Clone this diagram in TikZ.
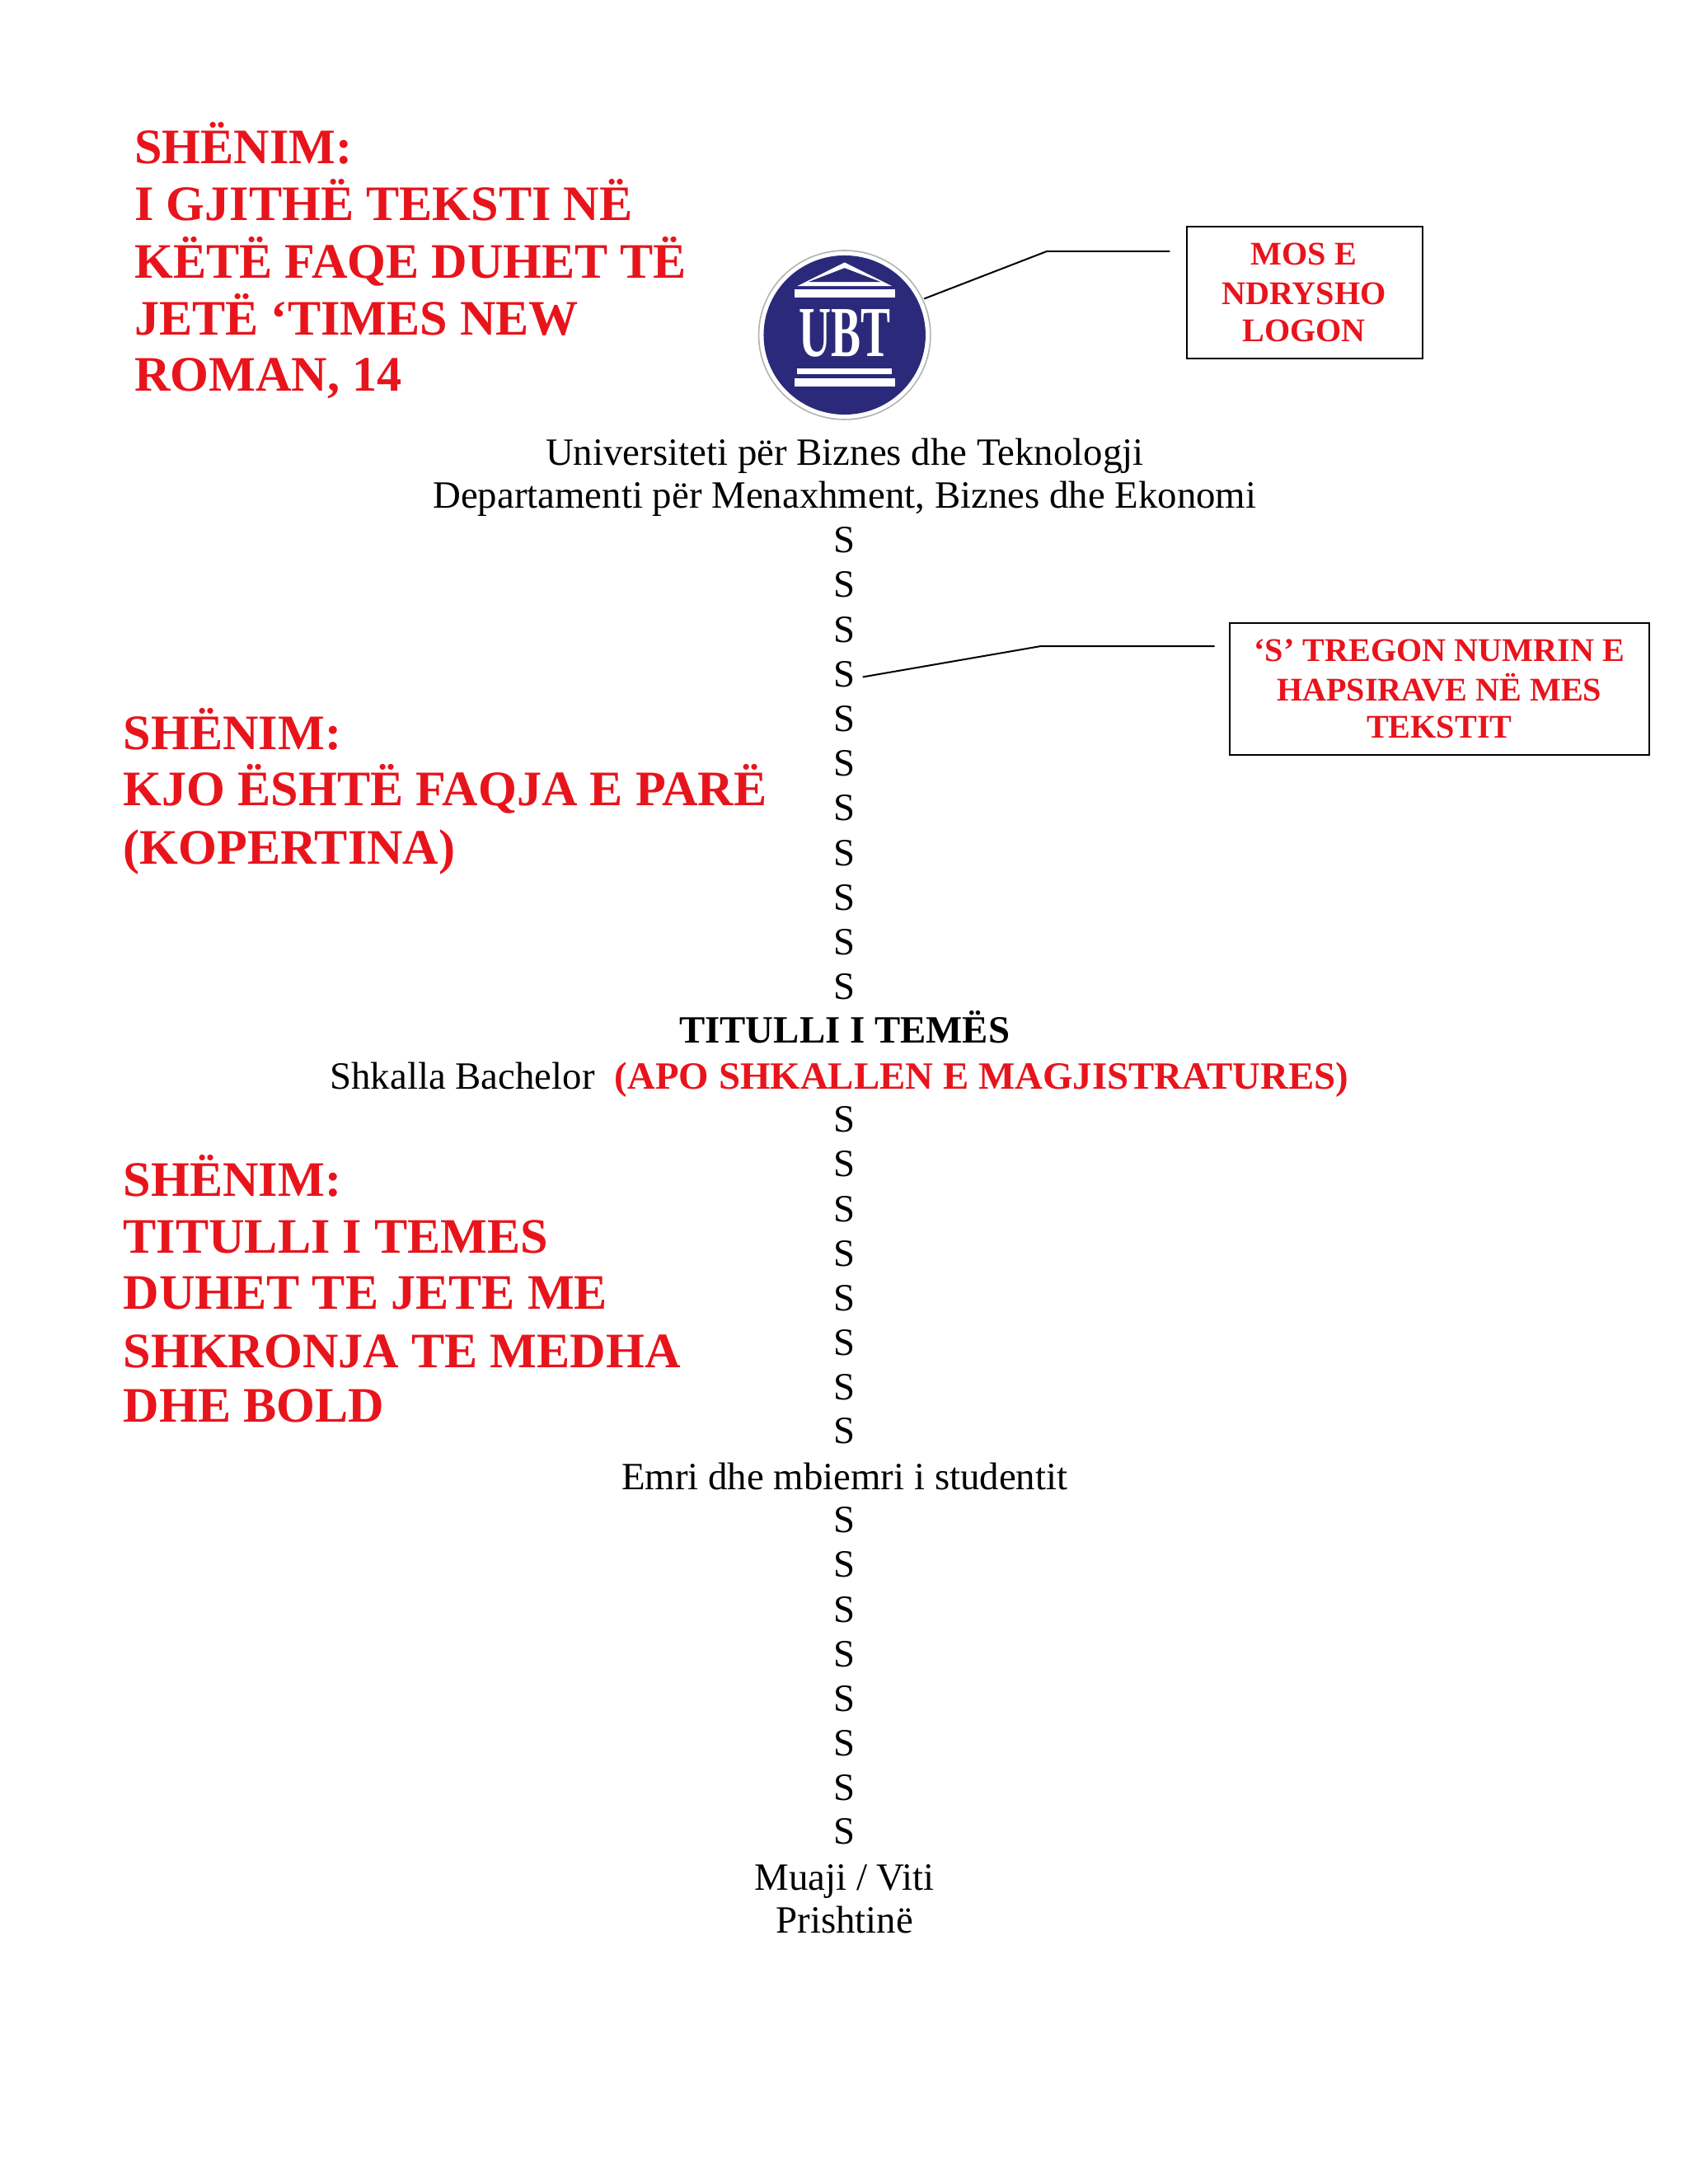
\documentclass[tikz,border=0pt]{standalone}
\usepackage{fontspec}
\setmainfont{Liberation Serif}
\definecolor{nred}{HTML}{E8141C}
\definecolor{ubt}{HTML}{2B2A7A}
\tikzset{
 x=0.50620pt,y=-0.50620pt,
 note/.style={anchor=base west,inner sep=0,text=nred,font=\fontsize{18}{20}\selectfont\bfseries},
 body/.style={anchor=base,inner sep=0,font=\fontsize{14}{16}\selectfont},
 boxtxt/.style={anchor=base,inner sep=0,text=nred,font=\fontsize{12}{14}\selectfont\bfseries},
 callout/.style={draw,line width=0.6pt},
 lead/.style={draw,line width=0.6pt},
}
\begin{document}
\begin{tikzpicture}
\fill[white] (0,0) rectangle (1209,1564.6);
\useasboundingbox (0,0) rectangle (1209,1564.6);
% note 1
\foreach \t/\y [count=\i] in {SHËNIM:/105,I GJITHË  TEKSTI  NË/146,KËTË FAQE DUHET TË/187,JETË ‘TIMES NEW/228,{ROMAN, 14}/268}
  \node[note] (na\i) at (96,\y+12) {\t};
% logo
\fill[gray!60] (605,240) ellipse [x radius=62,y radius=61];
\fill[white] (605,240) ellipse [x radius=61,y radius=60];
\fill[ubt] (605,240) ellipse [x radius=58,y radius=57];
\coordinate (logo) at (662,214);
\fill[white] (571,205) -- (605,188) -- (639,205) -- cycle;
\fill[ubt] (579,202) -- (605,192) -- (631,202) -- cycle;
\fill[white] (569,207) rectangle (641,213);
\fill[white] (569,271) rectangle (641,277);
\fill[white] (571,264) rectangle (639,268);
\node[inner sep=0,text=white,font=\fontsize{26}{26}\selectfont\bfseries,xscale=0.62] at (605,239) {UBT};
% box 1
\node[callout,minimum width=85.5pt,minimum height=48pt,inner sep=0] (b1) at (934.5,209.5) {};
\node[boxtxt] at (934,190) {MOS E};
\node[boxtxt] at (934,218) {NDRYSHO};
\node[boxtxt] at (934,245) {LOGON};
\coordinate (k1) at (750,180);
\draw[lead] (logo) -- (k1) -- (838,180);
% header
\node[body] (u1) at (605,333) {Universiteti  për Biznes  dhe Teknologji};
\node[body] (u2) at (605,364) {Departamenti  për Menaxhment,  Biznes dhe Ekonomi};
\foreach \y [count=\i] in {387,419,451,483,515,547,579,611,643,675,707}
  \node[body] (sa\i) at (605,\y+9) {S};
% box 2
\node[callout,minimum width=152pt,minimum height=48pt,inner sep=0] (b2) at (1031,493.5) {};
\node[boxtxt] at (1031,474) {‘S’ TREGON NUMRIN E};
\node[boxtxt] at (1031,502) {HAPSIRAVE  NË MES};
\node[boxtxt] at (1031,529) {TEKSTIT};
\coordinate (k2) at (745,463);
\coordinate (s4) at (618,485);
\draw[lead] (s4) -- (k2) -- (870,463);
% note 2
\foreach \t/\y [count=\i] in {SHËNIM:/525,KJO ËSHTË FAQJA E PARË/565,(KOPERTINA)/607}
  \node[note] (nb\i) at (88,\y+12) {\t};
\node[body,font=\fontsize{14}{16}\selectfont\bfseries] (tit) at (605,747) {TITULLI I TEMËS};
\node[body,anchor=base west] (sh) at (236,780) {Shkalla  Bachelor};
\node[body,anchor=base west,text=nred,font=\fontsize{14}{16}\selectfont\bfseries] (apo) at (440,780) {(APO SHKALLEN E MAGJISTRATURES)};
\foreach \y [count=\i] in {802,834,866,898,930,962,994,1025}
  \node[body] (sb\i) at (605,\y+9) {S};
% note 3
\foreach \t/\y [count=\i] in {SHËNIM:/845,TITULLI I TEMES/886,DUHET TE JETE ME/926,SHKRONJA TE MEDHA/968,DHE BOLD/1007}
  \node[note] (nc\i) at (88,\y+12) {\t};
\node[body] (em) at (605,1067) {Emri dhe mbiemri  i studentit};
\foreach \y [count=\i] in {1089,1121,1153,1185,1217,1249,1281,1312}
  \node[body] (sc\i) at (605,\y+9) {S};
\node[body] (mv) at (605,1354) {Muaji  / Viti};
\node[body] (pr) at (605,1385) {Prishtinë};
\end{tikzpicture}
\end{document}
